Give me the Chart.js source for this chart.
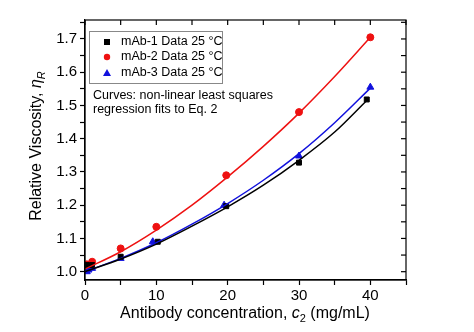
<!DOCTYPE html>
<html>
<head>
<meta charset="utf-8">
<script src="https://cdn.jsdelivr.net/npm/chart.js@4.4.1/dist/chart.umd.min.js"></script>
<style>
  body { margin: 0; background: #fff; }
  canvas { display: block; }
</style>
</head>
<body>
<canvas id="myChart" width="474" height="332"></canvas>
<script>
// measured data (x = concentration mg/mL, y = relative viscosity)
var mab1X = [0.25, 1, 5, 10.2, 19.8, 30, 39.5];
var mab1Y = [1.02, 1.02, 1.045, 1.09, 1.197, 1.328, 1.518];
var mab2X = [0.25, 1, 5, 10, 19.8, 30, 40];
var mab2Y = [1.022, 1.03, 1.07, 1.135, 1.29, 1.48, 1.705];
var mab3X = [0.25, 0.5, 1, 5, 9.5, 19.5, 30, 40];
var mab3Y = [1.0, 1.005, 1.01, 1.04, 1.09, 1.2, 1.348, 1.555];

// regression curves
var fit1X = [0, 5, 10, 15, 20, 25, 30, 35, 39.5];
var fit1Y = [1.0, 1.038, 1.083, 1.137, 1.195, 1.26, 1.335, 1.42, 1.515];
var fitX = [0, 5, 10, 15, 20, 25, 30, 35, 40];
var fit2Y = [1.008, 1.06, 1.125, 1.2, 1.285, 1.377, 1.477, 1.587, 1.705];
var fit3Y = [1.0, 1.04, 1.087, 1.143, 1.205, 1.275, 1.355, 1.448, 1.552];

var xTicks = [0, 5, 10, 15, 20, 25, 30, 35, 40, 45];
var yTicks = [1.0, 1.05, 1.1, 1.15, 1.2, 1.25, 1.3, 1.35, 1.4, 1.45, 1.5, 1.55, 1.6, 1.65, 1.7, 1.75];

var legendNames = ["mAb-1 Data 25 \u00B0C", "mAb-2 Data 25 \u00B0C", "mAb-3 Data 25 \u00B0C"];
var colors = ["#000000", "#ee1111", "#1111dd"];
var styles = ["rect", "circle", "triangle"];

function pts(xs, ys) {
  return xs.map(function (x, i) { return {x: x, y: ys[i]}; });
}

var FONT = "'Liberation Sans', Arial, sans-serif";

var boxPlugin = {
  id: "box",
  afterDraw: function (chart) {
    var ctx = chart.ctx, a = chart.chartArea;
    var xs = chart.scales.x, ys = chart.scales.y;
    ctx.save();
    ctx.strokeStyle = "#000";
    ctx.lineWidth = 1.2;
    ctx.strokeRect(a.left, a.top, a.right - a.left, a.bottom - a.top);
    // mirrored ticks on top and right, pointing inward
    xTicks.forEach(function (v) {
      var px = xs.getPixelForValue(v);
      ctx.beginPath();
      ctx.moveTo(px, a.top);
      ctx.lineTo(px, a.top + 5);
      ctx.stroke();
    });
    yTicks.forEach(function (v) {
      var py = ys.getPixelForValue(v);
      ctx.beginPath();
      ctx.moveTo(a.right, py);
      ctx.lineTo(a.right - 5, py);
      ctx.stroke();
    });

    // legend
    ctx.strokeStyle = "#888";
    ctx.lineWidth = 1;
    ctx.strokeRect(89.5, 31.5, 133, 52);
    ctx.font = "12.5px " + FONT;
    ctx.textBaseline = "middle";
    ctx.textAlign = "left";
    var rows = [42, 57, 73];
    rows.forEach(function (ry, i) {
      ctx.fillStyle = colors[i];
      ctx.beginPath();
      if (i === 0) {
        ctx.fillRect(104, ry - 3, 6, 6);
      } else if (i === 1) {
        ctx.arc(107, ry, 3.2, 0, Math.PI * 2);
        ctx.fill();
      } else {
        ctx.moveTo(107, ry - 4);
        ctx.lineTo(111, ry + 3);
        ctx.lineTo(103, ry + 3);
        ctx.closePath();
        ctx.fill();
      }
      ctx.fillStyle = "#000";
      ctx.fillText(legendNames[i], 121, ry);
    });
    ctx.fillText("Curves: non-linear least squares", 93, 96);
    ctx.fillText("regression fits to Eq. 2", 93, 110);

    // axis titles with italic symbols
    ctx.textBaseline = "alphabetic";
    var parts = [
      {t: "Antibody concentration, ", f: "16px " + FONT, dy: 0},
      {t: "c", f: "italic 16px " + FONT, dy: 0},
      {t: "2", f: "11px " + FONT, dy: 4},
      {t: " (mg/mL)", f: "16px " + FONT, dy: 0}
    ];
    var total = 0;
    parts.forEach(function (p) { ctx.font = p.f; p.w = ctx.measureText(p.t).width; total += p.w; });
    var cx = 245 - total / 2;
    parts.forEach(function (p) {
      ctx.font = p.f;
      ctx.fillText(p.t, cx, 318 + p.dy);
      cx += p.w;
    });
    // y title
    ctx.translate(41, 146);
    ctx.rotate(-Math.PI / 2);
    var yparts = [
      {t: "Relative Viscosity, ", f: "16px " + FONT, dy: 0},
      {t: "\u03B7", f: "italic 16px " + FONT, dy: 0},
      {t: "R", f: "italic 11px " + FONT, dy: 4}
    ];
    total = 0;
    yparts.forEach(function (p) { ctx.font = p.f; p.w = ctx.measureText(p.t).width; total += p.w; });
    cx = -total / 2;
    yparts.forEach(function (p) {
      ctx.font = p.f;
      ctx.fillText(p.t, cx, p.dy);
      cx += p.w;
    });
    ctx.restore();
  }
};

var curveOpts = {showLine: true, borderWidth: 1.5, pointRadius: 0, cubicInterpolationMode: "monotone"};

new Chart("myChart", {
  type: "scatter",
  data: {
    datasets: [
      Object.assign({data: pts(fit1X, fit1Y), borderColor: colors[0]}, curveOpts),
      Object.assign({data: pts(fitX, fit2Y), borderColor: colors[1]}, curveOpts),
      Object.assign({data: pts(fitX, fit3Y), borderColor: colors[2]}, curveOpts),
      {data: pts(mab1X, mab1Y), pointStyle: styles[0], pointRadius: 3.5, backgroundColor: colors[0], borderColor: colors[0]},
      {data: pts(mab2X, mab2Y), pointStyle: styles[1], pointRadius: 3.5, backgroundColor: colors[1], borderColor: colors[1]},
      {data: pts(mab3X, mab3Y), pointStyle: styles[2], pointRadius: 4, backgroundColor: colors[2], borderColor: colors[2]}
    ]
  },
  options: {
    responsive: false,
    animation: false,
    layout: {padding: {left: 0, top: 20, right: 68, bottom: 0}},
    plugins: {legend: {display: false}, tooltip: {enabled: false}},
    scales: {
      x: {
        min: 0, max: 45,
        afterBuildTicks: function (s) { s.ticks = xTicks.map(function (v) { return {value: v}; }); },
        afterFit: function (s) { s.height = 52; },
        ticks: {
          autoSkip: false, maxRotation: 0, color: "#000", padding: 2,
          font: {family: FONT, size: 15},
          callback: function (v) { return v % 10 === 0 && v <= 40 ? String(v) : ""; }
        },
        grid: {drawOnChartArea: false, tickLength: 5, color: "#000", tickWidth: 1.2},
        border: {color: "#000", width: 1.2}
      },
      y: {
        min: 0.975, max: 1.757,
        afterBuildTicks: function (s) { s.ticks = yTicks.map(function (v) { return {value: v}; }); },
        afterFit: function (s) { s.width = 85; },
        ticks: {
          autoSkip: false, color: "#000", padding: 3,
          font: {family: FONT, size: 15},
          callback: function (v) {
            var r = Math.round(v * 100);
            return r % 10 === 0 && r <= 170 ? (r / 100).toFixed(1) : "";
          }
        },
        grid: {drawOnChartArea: false, tickLength: 5, color: "#000", tickWidth: 1.2},
        border: {color: "#000", width: 1.2}
      }
    }
  },
  plugins: [boxPlugin]
});
</script>
</body>
</html>
